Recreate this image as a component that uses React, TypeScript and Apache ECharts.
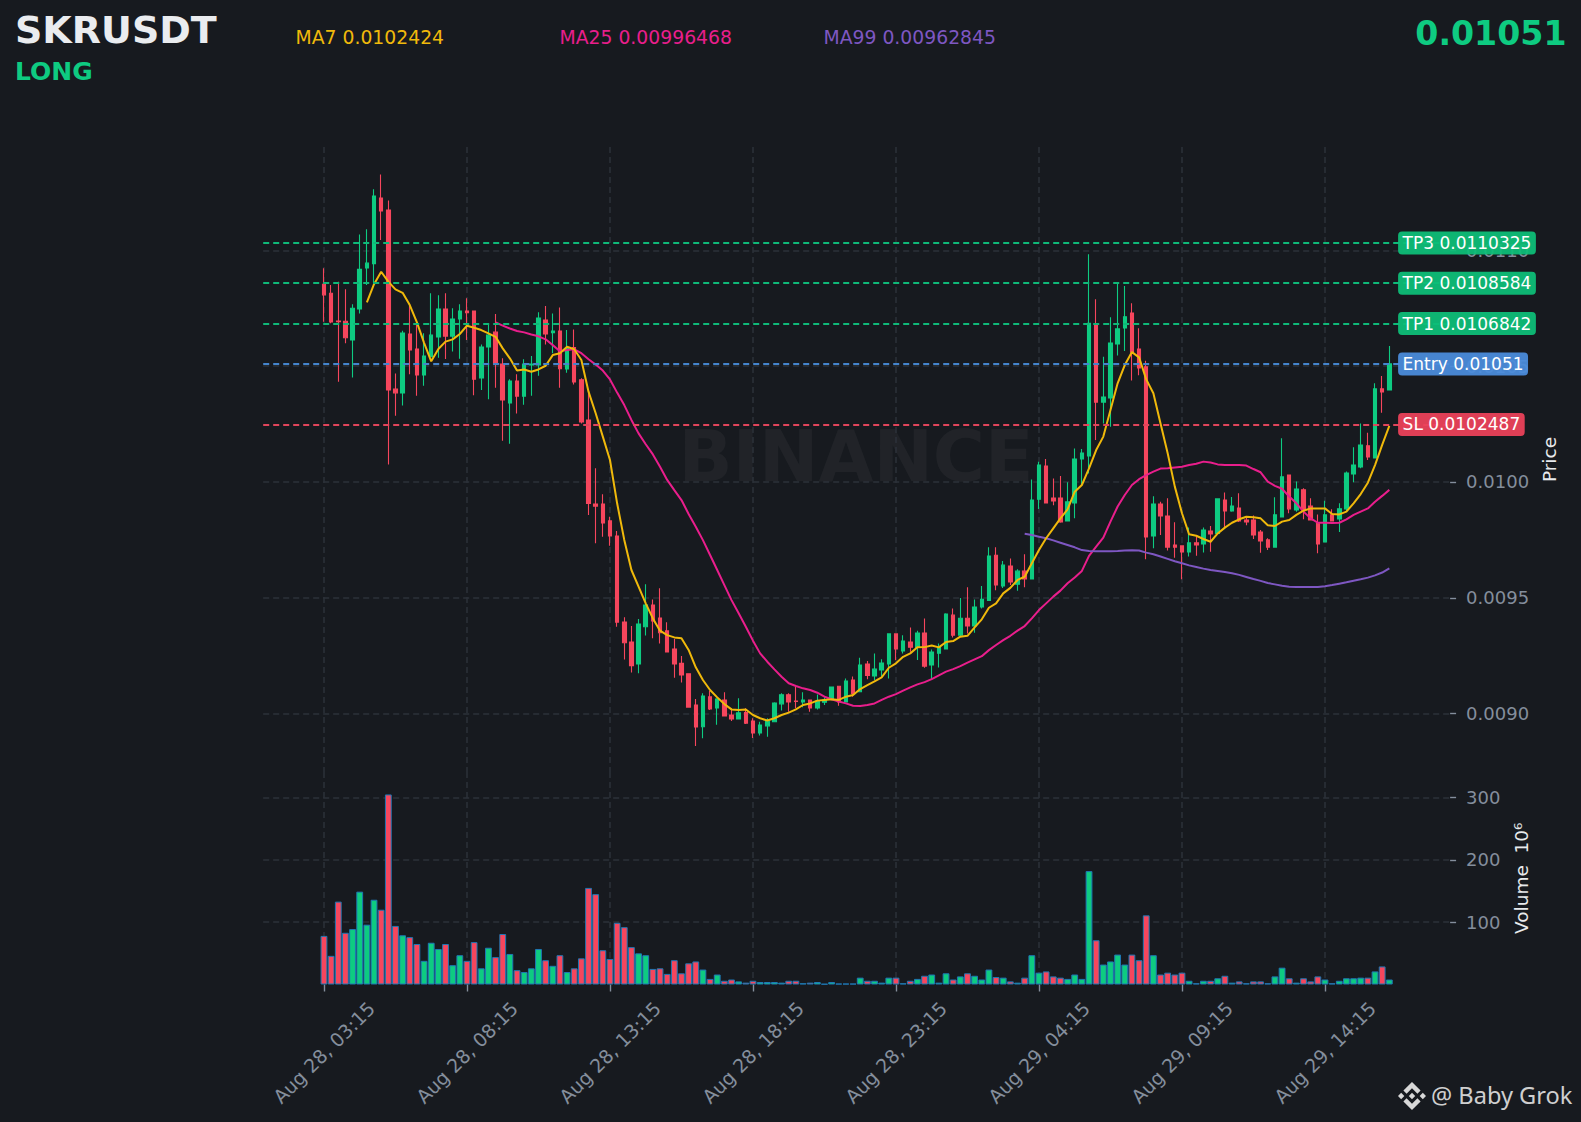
import React, { useEffect, useRef } from "react";
import * as echarts from "echarts";

const PRICE_UNIT = 1e-6;
const opens = [10854,10815,10695,10694,10613,10747,10924,10943,11226,11174,10401,10384,10639,10574,10462,10541,10626,10747,10630,10704,10738,10738,10449,10583,10647,10509,10341,10436,10371,10505,10505,10699,10645,10652,10488,10581,10441,10268,9905,9905,9832,9767,9395,9309,9214,9375,9469,9413,9357,9279,9217,9172,9037,8943,9072,9024,9059,8994,8977,9005,8968,8916,8947,8965,9042,9081,9054,9050,9059,9024,9049,9063,9118,9050,9145,9094,9214,9162,9188,9214,9344,9270,9309,9286,9348,9210,9261,9279,9425,9339,9412,9378,9460,9489,9684,9551,9637,9559,9615,9581,9926,10069,9931,9931,9832,9909,10099,10112,10678,10345,10363,10596,10665,10730,10574,10497,9767,9905,9853,9728,9724,9698,9737,9732,9788,9778,9922,9875,9888,9836,9836,9784,9750,9719,9849,10030,9879,9966,9896,9823,9741,9858,9840,9884,10035,10065,10156,10104,10402,10397];
const closes = [10808,10691,10692,10623,10750,10918,10945,11235,11170,10397,10385,10643,10570,10462,10544,10634,10747,10630,10704,10738,10731,10444,10583,10634,10509,10354,10436,10371,10509,10509,10708,10639,10652,10489,10577,10432,10259,9907,9896,9823,9767,9395,9306,9207,9387,9469,9400,9349,9266,9214,9167,9028,8942,9076,9020,9063,8990,8977,9003,8959,8916,8951,8967,9046,9081,9050,9052,9059,9024,9054,9059,9115,9050,9141,9087,9210,9165,9192,9218,9344,9279,9313,9287,9348,9205,9266,9286,9430,9339,9412,9378,9460,9494,9680,9555,9641,9568,9615,9581,9922,10073,9909,9918,9827,9914,10099,10125,10685,10345,10367,10600,10661,10713,10561,10492,9763,9905,9853,9719,9719,9698,9737,9728,9793,9776,9927,9875,9896,9832,9827,9771,9745,9719,9858,10022,9884,9970,9879,9836,9732,9858,9832,9884,10039,10073,10160,10108,10402,10389,10510];
const highs = [10923,10851,10865,10832,10767,11069,11091,11264,11328,11215,10469,10653,10771,10685,10642,10815,10806,10815,10750,10767,10793,10740,10594,10682,10725,10534,10444,10465,10530,10544,10733,10760,10728,10753,10656,10659,10448,10397,10059,9947,9850,9788,9416,9378,9408,9558,9493,9541,9394,9322,9249,9174,9063,9088,9098,9066,9092,9023,9066,9023,8980,8965,8980,9049,9088,9088,9116,9092,9060,9082,9070,9117,9119,9152,9160,9241,9227,9260,9235,9345,9345,9338,9372,9358,9411,9277,9303,9433,9454,9499,9545,9493,9551,9718,9718,9659,9670,9623,9688,10011,10087,10099,10015,10026,9999,10145,10143,10983,10789,10541,10711,10858,10846,10772,10664,10524,9938,9915,9930,9826,9725,9804,9771,9804,9810,9928,9955,9935,9951,9850,9855,9793,9757,9934,10189,10032,10002,9973,9930,9860,9919,9882,9908,10045,10150,10253,10213,10426,10458,10587];
const lows = [10692,10685,10433,10599,10451,10728,10851,10858,11045,10076,10286,10330,10465,10372,10416,10541,10537,10531,10563,10532,10613,10375,10397,10357,10407,10178,10165,10296,10334,10372,10459,10594,10556,10407,10472,10421,10253,9857,9735,9764,9725,9375,9234,9177,9174,9337,9325,9303,9266,9155,9134,9025,8860,8893,9015,8952,8990,8968,8975,8955,8895,8905,8900,8964,9013,9008,9023,9027,9008,9018,9037,9059,9034,9048,9073,9094,9148,9145,9159,9151,9231,9260,9267,9231,9198,9149,9199,9277,9329,9332,9346,9349,9454,9486,9533,9542,9555,9530,9545,9580,9883,9908,9900,9824,9830,9843,9987,10037,10181,10253,10239,10546,10566,10438,10461,9666,9714,9771,9704,9673,9580,9678,9682,9696,9699,9776,9797,9872,9827,9813,9754,9695,9706,9718,9848,9865,9872,9839,9836,9692,9740,9829,9784,9872,9999,10059,10095,10102,10299,10395];
const volumes = [78,46,133,83,89,149,96,136,120,305,94,79,76,65,38,67,57,65,31,47,38,68,26,59,44,81,49,23,20,26,57,39,30,47,20,26,42,155,145,55,41,99,92,60,50,47,25,26,17,39,18,34,37,24,9,16,6,8,5,3,6,4,4,4,3,6,6,2,3,4,1,4,1.5,1.5,1.5,11,6,6,3,11,11,2,6,9,14,16,3,18,8,13,18,14,8,24,12,11,5,3,11,47,19,21,13,11,9,16,9,182,71,32,37,48,32,48,39,111,47,16,19,16,19,6,2,6,6,10,14,3,5,2,5,5,2,13,27,10,3,10,5,13,8,2,6,10,10,11,11,21,29,8];
const ma7 = [10776,10854,10908,10865,10832,10817,10764,10689,10601,10521,10574,10606,10616,10639,10675,10666,10656,10642,10627,10577,10534,10481,10486,10476,10486,10502,10548,10556,10584,10573,10527,10390,10297,10196,10095,9908,9750,9620,9548,9476,9411,9358,9339,9329,9325,9275,9200,9145,9102,9070,9041,9018,9015,9018,8994,8980,8970,8980,8994,9004,9018,9037,9044,9056,9059,9062,9059,9073,9080,9106,9123,9139,9156,9198,9217,9245,9260,9286,9287,9294,9286,9309,9313,9332,9336,9372,9407,9457,9476,9519,9543,9577,9591,9649,9706,9757,9800,9843,9882,9958,9987,10059,10138,10196,10311,10426,10505,10561,10538,10443,10383,10253,10124,9980,9865,9774,9768,9754,9742,9778,9803,9824,9839,9850,9848,9843,9813,9810,9829,9836,9858,9876,9886,9886,9886,9862,9860,9872,9908,9948,9997,10073,10160,10242];
const ma25 = [10689,10675,10663,10652,10646,10637,10629,10616,10591,10565,10570,10573,10556,10530,10507,10481,10443,10386,10332,10268,10210,10163,10119,10066,10009,9965,9922,9862,9807,9749,9685,9620,9555,9490,9433,9375,9315,9260,9224,9191,9159,9131,9119,9109,9102,9090,9073,9062,9052,9044,9034,9033,9037,9044,9059,9073,9084,9099,9113,9126,9136,9149,9165,9181,9192,9205,9220,9234,9248,9274,9296,9317,9336,9358,9378,9411,9447,9476,9505,9531,9563,9588,9616,9681,9721,9760,9829,9894,9944,9987,10012,10030,10045,10058,10059,10063,10066,10073,10079,10088,10084,10076,10073,10073,10073,10071,10056,10042,10002,9983,9971,9937,9908,9872,9843,9824,9824,9823,9824,9839,9858,9872,9886,9915,9940,9966];
const ma99 = [9777,9771,9764,9757,9748,9738,9728,9718,9706,9702,9701,9701,9701,9702,9704,9705,9704,9695,9688,9678,9668,9658,9649,9640,9633,9626,9620,9616,9611,9606,9599,9590,9581,9573,9564,9558,9552,9548,9547,9547,9547,9547,9550,9555,9561,9567,9574,9580,9587,9597,9609,9627];
const tickLabels = ["Aug 28, 03:15","Aug 28, 08:15","Aug 28, 13:15","Aug 28, 18:15","Aug 28, 23:15","Aug 29, 04:15","Aug 29, 09:15","Aug 29, 14:15"];
const priceTicks = [0.009, 0.0095, 0.01, 0.0105, 0.011];
const volumeTicks = [100, 200, 300];
const levelNames = ["TP3", "TP2", "TP1", "Entry", "SL"];
const levelTexts = ["0.0110325", "0.0108584", "0.0106842", "0.01051", "0.0102487"];
const levelValues = [0.0110325, 0.0108584, 0.0106842, 0.01051, 0.0102487];

const UP = "#0ECB81";
const DOWN = "#F6465D";
const BG = "#171A1F";
const GRID = "#2D323A";
const TICK = "#848E9C";
const FONT = "DejaVu Sans";
const levelLine = ["#0FB878", "#0FB878", "#0FB878", "#4484CC", "#E0455B"];
const levelBox = ["rgba(14,190,120,0.94)", "rgba(14,190,120,0.94)", "rgba(14,190,120,0.94)", "rgba(74,140,220,0.94)", "rgba(236,66,90,0.94)"];

const PAD = 8;
const EVERY = 20;
const COUNT = opens.length + 2 * PAD;
const padWith = (a: any[], blank: any, lead = 0) => [...Array(PAD + lead).fill(blank), ...a, ...Array(PAD).fill(blank)];
const isTick = (i: number) => i >= PAD && i < COUNT - PAD && (i - PAD) % EVERY === 0;
const categories = Array.from({ length: COUNT }, (_, i) => (isTick(i) ? tickLabels[(i - PAD) / EVERY] : ""));
const toPrice = (v: number) => v * PRICE_UNIT;

const LOGO = "M38.73 53.2l24.59-24.58 24.6 24.6 14.3-14.31L63.32 0 24.43 38.9zM0 63.31l14.3-14.31 14.31 14.31-14.31 14.3zM38.73 73.41l24.59 24.59 24.6-24.6 14.31 14.29-38.9 38.91-38.91-38.88-.02-.02zM98 63.31l14.3-14.31 14.31 14.3-14.31 14.32zM77.83 63.3L63.32 48.78 52.59 59.51l-1.24 1.23-2.54 2.54 14.51 14.5 14.51-14.47z";

const label = (text: string, x: number, y: number, size: number, fill: string, weight = "normal", align = "left", family = FONT) => ({
  type: "text", x, y, silent: true, z: 20,
  style: { text, fill, font: `${weight} ${size}px "${family}"`, align, verticalAlign: "middle" },
});

export default function App() {
  const ref = useRef<HTMLDivElement>(null);
  useEffect(() => {
    document.body.style.margin = "0";
    document.body.style.background = BG;
    echarts.graphic.registerShape("binanceLogo", echarts.graphic.extendPath(LOGO, {}) as any);
    const chart = echarts.init(ref.current!, undefined, { renderer: "svg" });
    const gridX = { left: 263.2, width: 1186.9 };
    const dashed = { color: GRID, width: 1.5, type: [6, 4] };
    const xBase = { type: "category", data: categories, boundaryGap: true, axisLine: { show: false } };
    const candles = padWith(opens.map((o, i) => [toPrice(o), toPrice(closes[i]), toPrice(lows[i]), toPrice(highs[i])]), ["-", "-", "-", "-"]);
    const bars = padWith(volumes.map((v, i) => ({
      value: v,
      itemStyle: { color: closes[i] >= opens[i] ? UP : DOWN },
    })), { value: "-" });
    chart.setOption({
      animation: false,
      backgroundColor: BG,
      textStyle: { fontFamily: FONT },
      grid: [
        { ...gridX, top: 147, height: 625 },
        { ...gridX, top: 772, height: 212.5 },
      ],
      xAxis: [
        {
          ...xBase, gridIndex: 0, axisTick: { show: false }, axisLabel: { show: false },
          splitLine: { show: true, interval: (i: number) => isTick(i), alignWithLabel: true, lineStyle: dashed },
        },
        {
          ...xBase, gridIndex: 1,
          axisTick: { show: true, interval: (i: number) => isTick(i), alignWithLabel: true, length: 7, lineStyle: { color: TICK, width: 1.4 } },
          axisLabel: { interval: (i: number) => isTick(i), rotate: 45, align: "center", verticalAlign: "middle", color: TICK, fontSize: 19, margin: 68, fontFamily: FONT },
          splitLine: { show: true, interval: (i: number) => isTick(i), alignWithLabel: true, lineStyle: dashed },
        },
      ],
      yAxis: [
        {
          type: "value", gridIndex: 0, position: "right", min: 0.0087478, max: 0.0114465,
          name: "Price", nameLocation: "middle", nameRotate: 90, nameGap: 89,
          nameTextStyle: { color: "#E8EAED", fontSize: 18.5, fontFamily: FONT },
          axisLine: { show: false },
          axisTick: { show: true, length: 6, customValues: priceTicks, lineStyle: { color: TICK, width: 1.4 } },
          axisLabel: { customValues: priceTicks, color: TICK, fontSize: 18, margin: 16, fontFamily: FONT, formatter: (v: number) => v.toFixed(4) },
          splitLine: { show: true, lineStyle: dashed },
        },
        {
          type: "value", gridIndex: 1, position: "right", min: 0, max: 341,
          name: "Volume  10⁶", nameLocation: "middle", nameRotate: 90, nameGap: 62,
          nameTextStyle: { color: "#E8EAED", fontSize: 18.5, fontFamily: FONT },
          axisLine: { show: false },
          axisTick: { show: true, length: 6, customValues: volumeTicks, lineStyle: { color: TICK, width: 1.4 } },
          axisLabel: { customValues: volumeTicks, color: TICK, fontSize: 18, margin: 16, fontFamily: FONT },
          splitLine: { show: true, lineStyle: dashed },
        },
      ],
      series: [
        {
          name: "Price", type: "candlestick", xAxisIndex: 0, yAxisIndex: 0, barWidth: 4, data: candles,
          itemStyle: { color: UP, color0: DOWN, borderColor: UP, borderColor0: DOWN, borderWidth: 1.1 },
        },
        {
          name: "Volume", type: "bar", xAxisIndex: 1, yAxisIndex: 1, barWidth: 6.8, data: bars,
          itemStyle: { borderColor: "#1F77B4", borderWidth: 1 },
        },
        {
          name: "MA7", type: "line", xAxisIndex: 0, yAxisIndex: 0, showSymbol: false, symbol: "none",
          lineStyle: { color: "#F0B90B", width: 2 }, z: 4, data: padWith(ma7.map(toPrice), "-", 6),
          markLine: {
            silent: true, symbol: "none", z: 6, animation: false, precision: 7,
            data: levelValues.map((v, i) => ({
              yAxis: v,
              lineStyle: { color: levelLine[i], width: 1.8, type: [6, 4] },
              label: {
                show: true, position: "end", distance: -52, formatter: `${levelNames[i]} ${levelTexts[i]}`,
                color: "#FFFFFF", fontSize: 17, fontFamily: FONT, backgroundColor: levelBox[i],
                padding: [3, 4.5, 3, 4.5], borderRadius: 4,
              },
            })),
          },
        },
        {
          name: "MA25", type: "line", xAxisIndex: 0, yAxisIndex: 0, showSymbol: false, symbol: "none",
          lineStyle: { color: "#E91E8C", width: 2 }, z: 3, data: padWith(ma25.map(toPrice), "-", 24),
        },
        {
          name: "MA99", type: "line", xAxisIndex: 0, yAxisIndex: 0, showSymbol: false, symbol: "none",
          lineStyle: { color: "#7E57C2", width: 2 }, z: 3, data: padWith(ma99.map(toPrice), "-", 98),
        },
      ],
      graphic: [
        { type: "text", x: 856, y: 456, silent: true, z: 0, style: { text: "BINANCE", fill: "rgba(255,255,255,0.045)", font: `bold 71px "${FONT}"`, align: "center", verticalAlign: "middle" } },
        label("SKRUSDT", 15, 30, 38, "#EAECEF", "bold"),
        label("LONG", 15, 71, 25, UP, "bold"),
        label("MA7 0.0102424", 295.5, 37, 18.8, "#F0B90B"),
        label("MA25 0.00996468", 559.5, 37, 18.8, "#E91E8C"),
        label("MA99 0.00962845", 823.5, 37, 18.8, "#7E57C2"),
        label("0.01051", 1566.5, 33, 33.2, UP, "bold", "right"),
        { type: "binanceLogo", x: 1398, y: 1082, scaleX: 0.221, scaleY: 0.221, silent: true, z: 20, style: { fill: "#D8D8D8" } },
        label("@ Baby Grok", 1431, 1095, 23.6, "#CFCFCF", "normal", "left", "Noto Sans"),
      ],
    });
    return () => chart.dispose();
  }, []);
  return <div ref={ref} style={{ position: "fixed", left: 0, top: 0, width: 1581, height: 1122 }} />;
}
